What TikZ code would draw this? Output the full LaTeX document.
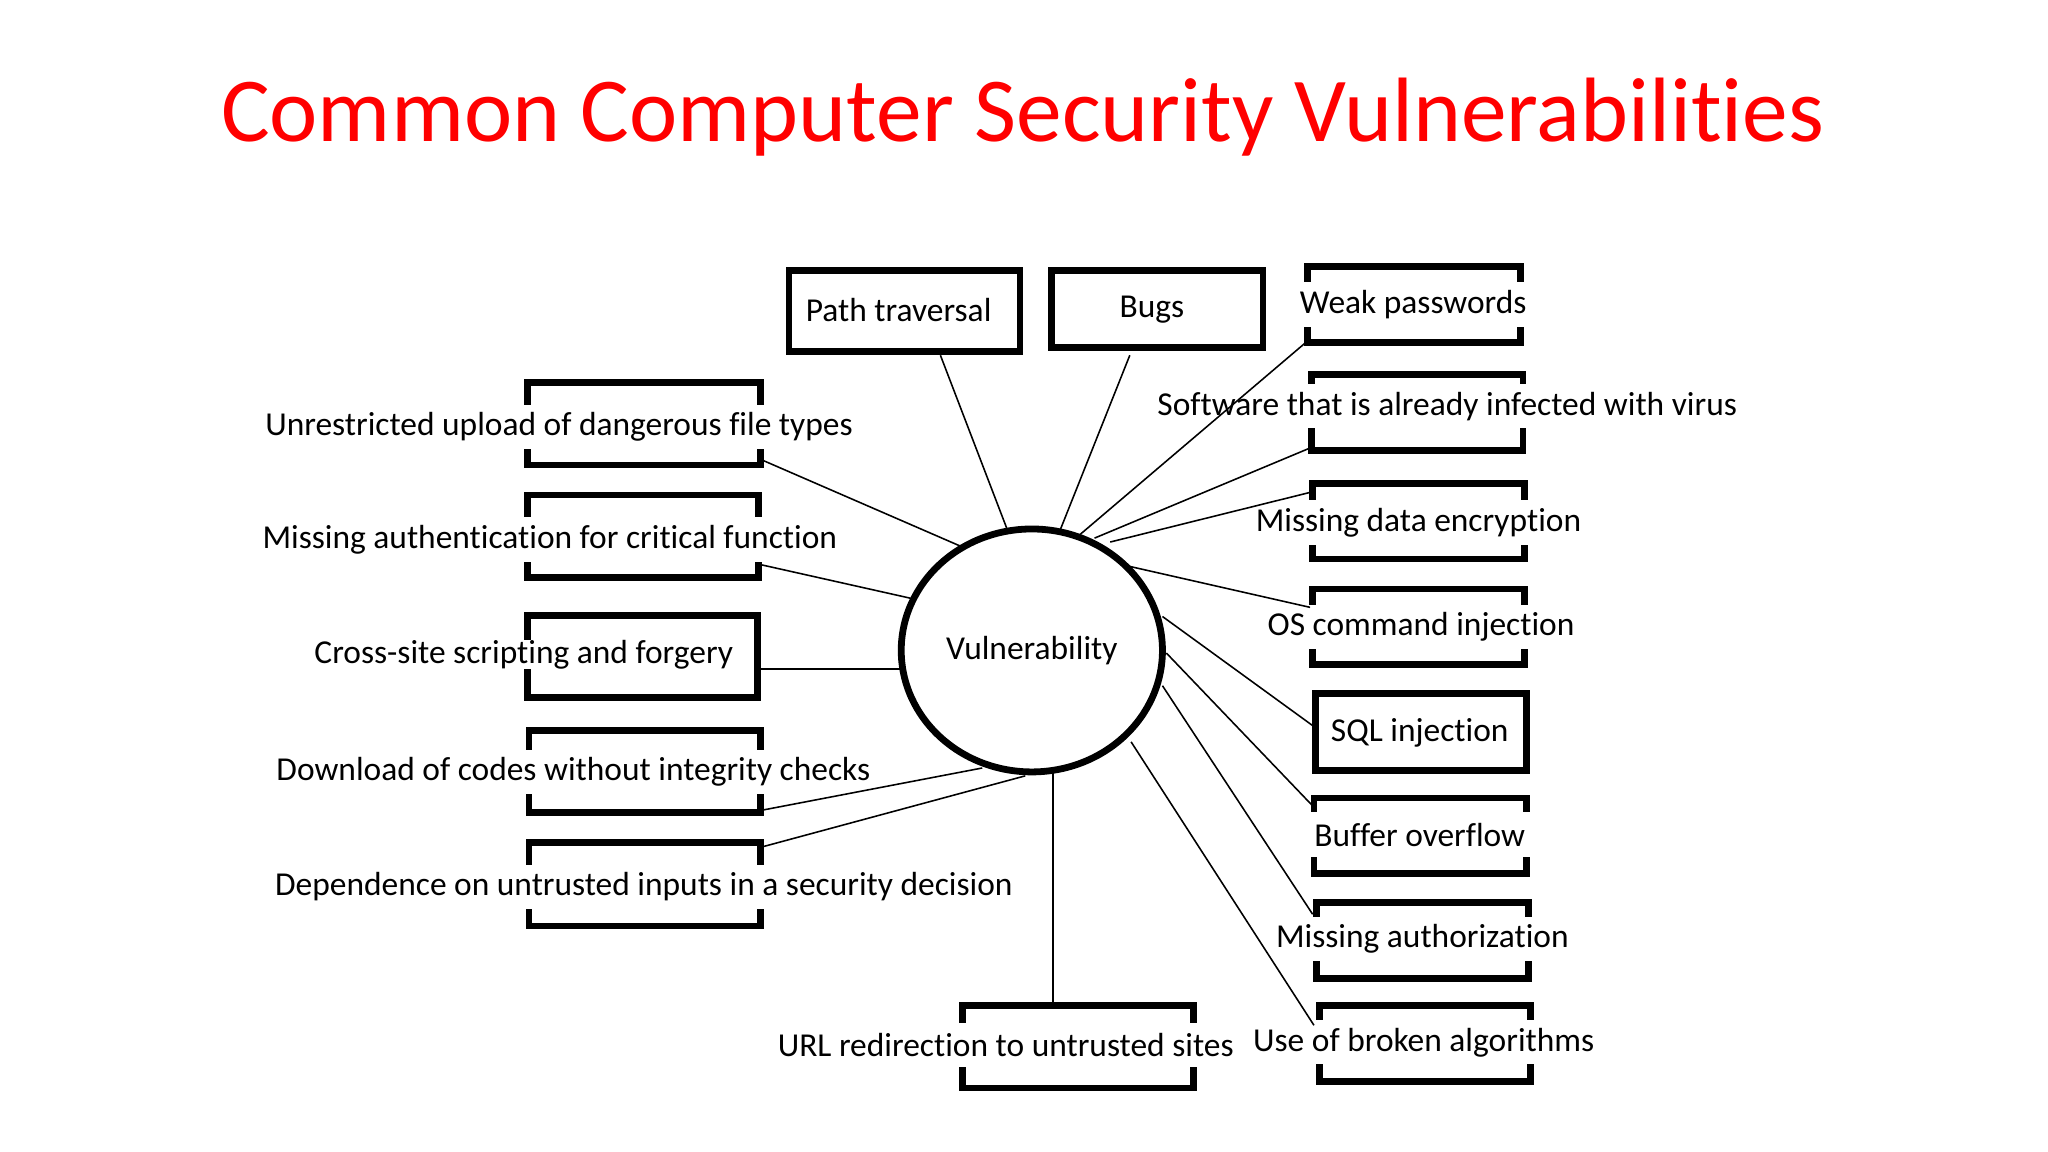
\documentclass[tikz,border=0pt]{standalone}
\usepackage{fontspec}
\usetikzlibrary{shapes.geometric}
\setmainfont{Carlito}[Ligatures=NoCommon]
\begin{document}
\begin{tikzpicture}[x=0.5pt,y=-0.5pt,
  bx/.style={line width=2.6pt},
  ln/.style={line width=0.6pt},
  lab/.style={font=\fontsize{12.8}{15}\selectfont, inner xsep=1pt, inner ysep=0pt, fill=white},
  blab/.style={lab, minimum height=17pt},
  flab/.style={font=\fontsize{12.8}{15}\selectfont}]
\useasboundingbox[fill=white] (0,0) rectangle (1568,882);
\node[text=red, font=\fontsize{35}{40}\selectfont] (title) at (783,90) {Common Computer Security Vulnerabilities};
% boxes
\foreach \n/\a/\b/\c/\d in {pt/604/207/781/269, bg/805/207/967/266, wp/1001/204/1164/262, sw/1004/287/1166/345, de/1005/370/1167/428, os/1005/451/1167/509, sq/1007/531/1169/590, bo/1006/611/1169/669, ma/1008/691/1170/749, ub/1010/770/1172/828, ur/737/770/914/833, uu/404/293/582/356, mn/404/379/581/442, cs/404/471/580/534, dl/405/559/582/622, dp/405/645/582/709}
  \draw[bx] (\a,\b) rectangle (\c,\d);
\node[flab] (tpt) at (688,237) {Path traversal};
\node[flab] (tbg) at (882,237) {Bugs};
\node[blab, minimum width=88pt] (twp) at (1082,233) {Weak passwords};
\node[blab] (tsw) at (1108,311) {Software that is already infected with virus};
\node[blab] (tde) at (1086,400) {Missing data encryption};
\node[blab] (tos) at (1088,480) {OS command injection};
\node[flab] (tsq) at (1087,561) {SQL injection};
\node[blab, minimum width=88pt] (tbo) at (1087,639) {Buffer overflow};
\node[blab] (tma) at (1089,719) {Missing authorization};
\node[blab] (tub) at (1090,798) {Use of broken algorithms};
\node[blab] (tur) at (770,800) {URL redirection to untrusted sites};
\node[blab] (tuu) at (428,327) {Unrestricted upload of dangerous file types};
\node[blab] (tmn) at (421,413) {Missing authentication for critical function};
\node[lab] (tcs) at (401,501) {Cross-site scripting and forgery};
\node[blab] (tdl) at (439,591) {Download of codes without integrity checks};
\node[blab] (tdp) at (493,679) {Dependence on untrusted inputs in a security decision};
% circle
\node[draw, line width=2.6pt, ellipse, minimum width=100pt, minimum height=93pt, inner sep=0pt, font=\fontsize{12.8}{15}\selectfont] (v) at (790,498) {Vulnerability};
% connectors
\foreach \n/\a/\b/\c/\d in {1/720/272/771/405, 2/865/272/812/405, 3/1000/262/826/410, 4/1003/343/838/412, 5/1003/377/850/415, 6/1003/465/862/433, 7/1007/557/890/472, 8/1005/617/893/500, 9/1005/700/890/525, 10/1006/785/866/568, 11/806/770/806/592, 12/583/352/735/418, 13/581/432/697/458, 14/580/512/690/512, 15/585/620/752/588, 16/585/648/785/594}
{ \coordinate (s\n) at (\a,\b); \coordinate (e\n) at (\c,\d); \draw[ln] (s\n) -- (e\n); }
\end{tikzpicture}
\end{document}
